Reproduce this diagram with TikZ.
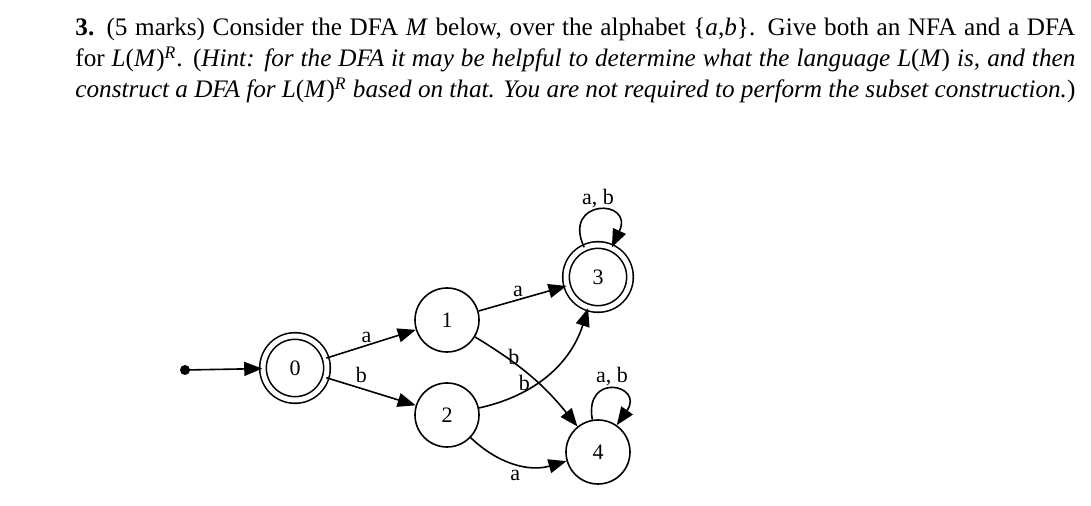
\documentclass[tikz,border=0pt]{standalone}
\usepackage{fontspec}
\setmainfont{Liberation Serif}
\usetikzlibrary{arrows.meta,positioning}

\begin{document}
\begin{tikzpicture}[
        x=0.5pt, y=-0.5pt,
        state/.style={circle, draw, thick, minimum size=32pt, inner sep=0pt, font=\fontsize{11}{13}\selectfont},
        accept/.style={state, double, double distance=2.5pt},
        lbl/.style={font=\fontsize{11}{13}\selectfont, inner sep=1pt},
        every edge/.style={draw, thick, -{Triangle[length=9pt,width=7pt]}}
    ]
 \useasboundingbox (0,0) rectangle (1091,506);
 \node[anchor=north west, text width=500pt, align=justify, inner sep=0pt,
       font=\fontsize{12.6}{15.5}\selectfont] (q) at (75,18)
  {\textbf{3.} (5 marks) Consider the DFA \textit{M} below, over the alphabet \{\textit{a},\textit{b}\}. Give both an NFA and a DFA for \textit{L}(\textit{M})\textsuperscript{\textit{R}}. (\textit{Hint: for the DFA it may be helpful to determine what the language L}(\textit{M}) \textit{is, and then construct a DFA for L}(\textit{M})\textsuperscript{\textit{R}} \textit{based on that. You are not required to perform the subset construction.})};
 \node[accept] (s0) at (295,368) {0};
 \node[state] (s1) at (447,320) {1};
 \node[state] (s2) at (447,415) {2};
 \node[accept] (s3) at (598,277) {3};
 \node[state] (s4) at (598,452) {4};
 \coordinate (start) at (185,370);
 \fill (start) circle (2.5pt);
 \draw (start) edge (s0)
       (s0) edge node[lbl, above, pos=0.45] {a} (s1)
       (s0) edge node[lbl, above right, pos=0.3] {b} (s2)
       (s1) edge node[lbl, above, pos=0.45] {a} (s3)
       (s1) edge[bend left=10] node[lbl, right, pos=0.25] {b} (s4)
       (s2) edge[bend right=30] node[lbl, left=2pt, pos=0.4] {b} (s3)
       (s2) edge[bend right=30] node[lbl, below=2pt] {a} (s4)
       (s3) edge[out=115, in=65, looseness=5] node[lbl, above] {a, b} (s3)
       (s4) edge[out=100, in=55, looseness=5] node[lbl, above] {a, b} (s4);
\end{tikzpicture}
\end{document}
